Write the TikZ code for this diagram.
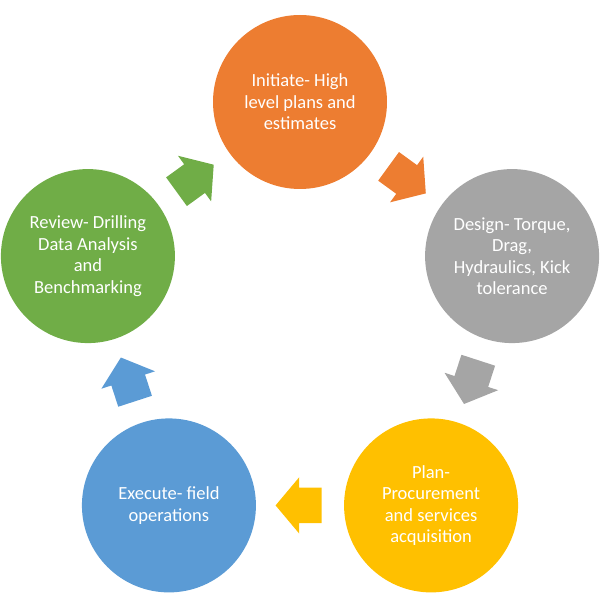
\documentclass[tikz,border=0pt]{standalone}
\usepackage{fontspec}
\setmainfont{Carlito}
\usepackage{xcolor}
\usetikzlibrary{shapes,arrows,positioning,calc}

\definecolor{initorange}{HTML}{ED7D31}
\definecolor{designgray}{HTML}{A5A5A5}
\definecolor{planyellow}{HTML}{FFC000}
\definecolor{execblue}{HTML}{5B9BD5}
\definecolor{reviewgreen}{HTML}{70AD47}

\tikzset{
    phase/.style={circle,minimum size=174pt,inner sep=0pt,text=white,align=center,
        font=\fontsize{18.5}{21.5}\selectfont},
    cyclearrow/.style={single arrow,minimum height=46pt,inner xsep=0pt,inner ysep=17.5pt,
        single arrow head extend=10.5pt,single arrow tip angle=100}
}

\begin{document}
\begin{tikzpicture}[x=1pt,y=1pt]
    \useasboundingbox (0,0) rectangle (600,608);
    \coordinate (hub) at (300,283);

    % the five phases
    \node[phase,fill=initorange] (initiate) at ($(hub)+(90:223)$) {Initiate- High\\level plans and\\estimates};
    \node[phase,fill=designgray] (design) at ($(hub)+(18:223)$) {Design- Torque,\\Drag,\\Hydraulics, Kick\\tolerance};
    \node[phase,fill=planyellow] (plan) at ($(hub)+(-54:223)$) {Plan-\\Procurement\\and services\\acquisition};
    \node[phase,fill=execblue] (execute) at ($(hub)+(-126:223)$) {Execute- field\\operations};
    \node[phase,fill=reviewgreen] (review) at ($(hub)+(162:223)$) {Review- Drilling\\Data Analysis\\and\\Benchmarking};

    % arrows between them
    \node[cyclearrow,fill=initorange,rotate=-36,xshift=-6pt] (toDesign) at ($(initiate)!0.5!(design)$) {};
    \node[cyclearrow,fill=designgray,rotate=-108,xshift=-6pt] (toPlan) at ($(design)!0.5!(plan)$) {};
    \node[cyclearrow,fill=planyellow,rotate=180,xshift=-6pt] (toExecute) at ($(plan)!0.5!(execute)$) {};
    \node[cyclearrow,fill=execblue,rotate=108,xshift=-6pt] (toReview) at ($(execute)!0.5!(review)$) {};
    \node[cyclearrow,fill=reviewgreen,rotate=36,xshift=-6pt] (toInitiate) at ($(review)!0.5!(initiate)$) {};
\end{tikzpicture}
\end{document}
